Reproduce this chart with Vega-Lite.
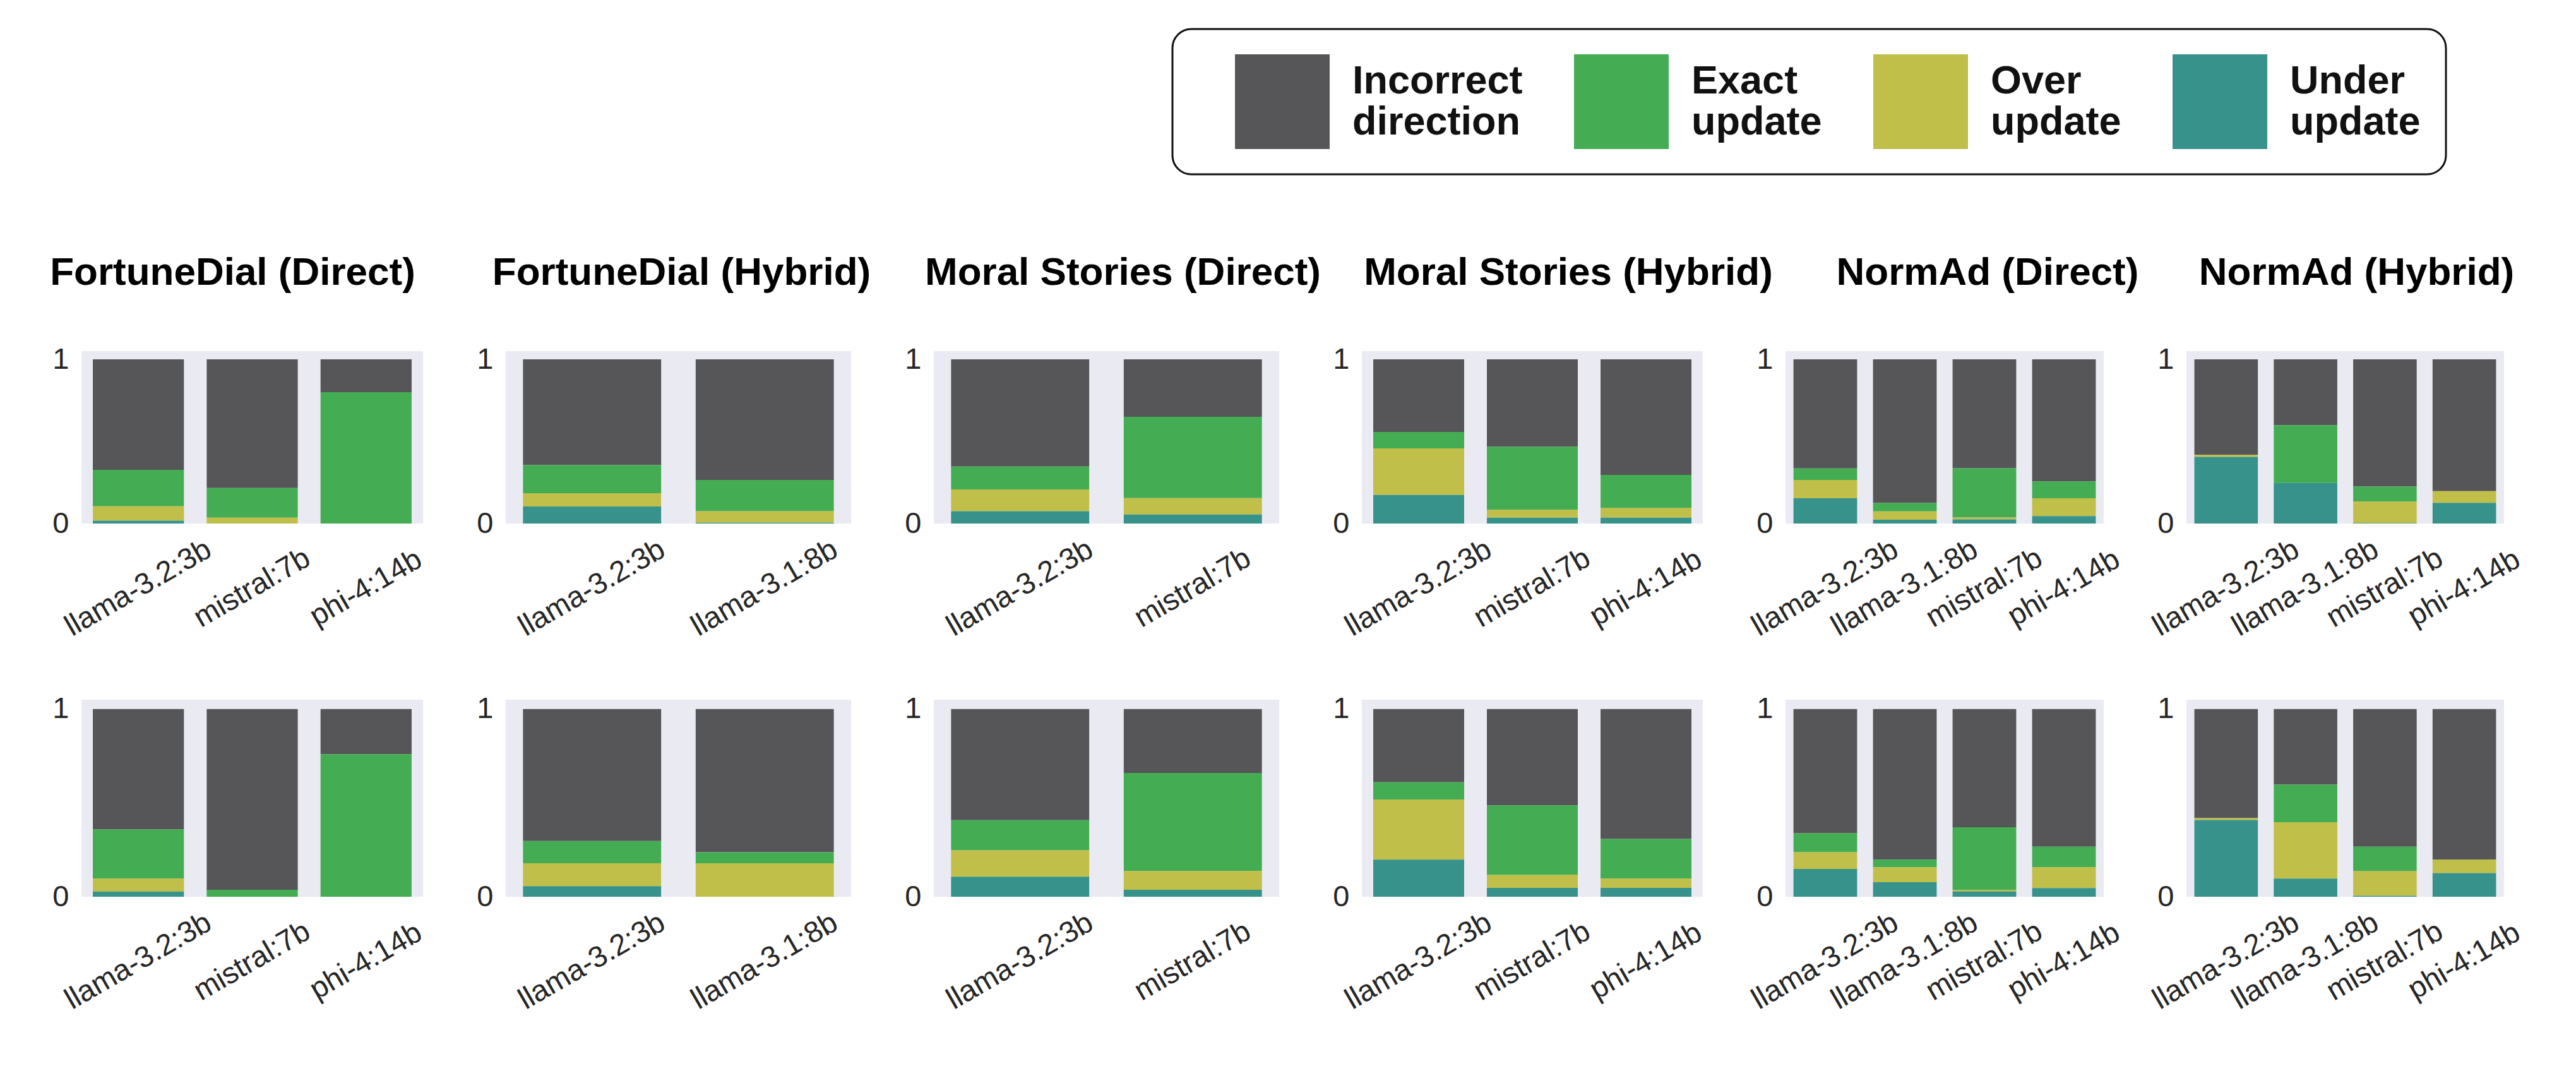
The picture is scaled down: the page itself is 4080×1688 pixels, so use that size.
{
"$schema":"https://vega.github.io/schema/vega-lite/v6.json",
"background":"white",
"padding":{"left":79,"top":44,"right":10,"bottom":10},
"data":{"values":[
{"p":"fdd","r":1,"m":"llama-3.2:3b","und":0.017,"ovr":0.088,"exa":0.222,"inc":0.673},
{"p":"fdd","r":1,"m":"mistral:7b","und":0,"ovr":0.036,"exa":0.18,"inc":0.784},
{"p":"fdd","r":1,"m":"phi-4:14b","und":0,"ovr":0,"exa":0.8,"inc":0.2},
{"p":"fdh","r":1,"m":"llama-3.2:3b","und":0.104,"ovr":0.081,"exa":0.171,"inc":0.644},
{"p":"fdh","r":1,"m":"llama-3.1:8b","und":0.005,"ovr":0.07,"exa":0.19,"inc":0.735},
{"p":"msd","r":1,"m":"llama-3.2:3b","und":0.075,"ovr":0.133,"exa":0.139,"inc":0.653},
{"p":"msd","r":1,"m":"mistral:7b","und":0.055,"ovr":0.1,"exa":0.495,"inc":0.35},
{"p":"msh","r":1,"m":"llama-3.2:3b","und":0.174,"ovr":0.284,"exa":0.1,"inc":0.442},
{"p":"msh","r":1,"m":"mistral:7b","und":0.036,"ovr":0.048,"exa":0.383,"inc":0.533},
{"p":"msh","r":1,"m":"phi-4:14b","und":0.036,"ovr":0.058,"exa":0.202,"inc":0.704},
{"p":"nad","r":1,"m":"llama-3.2:3b","und":0.154,"ovr":0.111,"exa":0.071,"inc":0.664},
{"p":"nad","r":1,"m":"llama-3.1:8b","und":0.023,"ovr":0.051,"exa":0.051,"inc":0.875},
{"p":"nad","r":1,"m":"mistral:7b","und":0.025,"ovr":0.012,"exa":0.3,"inc":0.663},
{"p":"nad","r":1,"m":"phi-4:14b","und":0.045,"ovr":0.109,"exa":0.103,"inc":0.743},
{"p":"nah","r":1,"m":"llama-3.2:3b","und":0.406,"ovr":0.012,"exa":0,"inc":0.582},
{"p":"nah","r":1,"m":"llama-3.1:8b","und":0.247,"ovr":0,"exa":0.352,"inc":0.401},
{"p":"nah","r":1,"m":"mistral:7b","und":0.003,"ovr":0.131,"exa":0.091,"inc":0.775},
{"p":"nah","r":1,"m":"phi-4:14b","und":0.126,"ovr":0.071,"exa":0,"inc":0.803},
{"p":"fdd","r":2,"m":"llama-3.2:3b","und":0.028,"ovr":0.069,"exa":0.261,"inc":0.642},
{"p":"fdd","r":2,"m":"mistral:7b","und":0,"ovr":0,"exa":0.037,"inc":0.963},
{"p":"fdd","r":2,"m":"phi-4:14b","und":0,"ovr":0,"exa":0.76,"inc":0.24},
{"p":"fdh","r":2,"m":"llama-3.2:3b","und":0.056,"ovr":0.122,"exa":0.119,"inc":0.703},
{"p":"fdh","r":2,"m":"llama-3.1:8b","und":0,"ovr":0.178,"exa":0.059,"inc":0.763},
{"p":"msd","r":2,"m":"llama-3.2:3b","und":0.107,"ovr":0.14,"exa":0.161,"inc":0.592},
{"p":"msd","r":2,"m":"mistral:7b","und":0.037,"ovr":0.1,"exa":0.523,"inc":0.34},
{"p":"msh","r":2,"m":"llama-3.2:3b","und":0.198,"ovr":0.32,"exa":0.092,"inc":0.39},
{"p":"msh","r":2,"m":"mistral:7b","und":0.047,"ovr":0.069,"exa":0.371,"inc":0.513},
{"p":"msh","r":2,"m":"phi-4:14b","und":0.047,"ovr":0.05,"exa":0.211,"inc":0.692},
{"p":"nad","r":2,"m":"llama-3.2:3b","und":0.148,"ovr":0.089,"exa":0.101,"inc":0.662},
{"p":"nad","r":2,"m":"llama-3.1:8b","und":0.077,"ovr":0.08,"exa":0.041,"inc":0.802},
{"p":"nad","r":2,"m":"mistral:7b","und":0.029,"ovr":0.008,"exa":0.333,"inc":0.63},
{"p":"nad","r":2,"m":"phi-4:14b","und":0.046,"ovr":0.111,"exa":0.11,"inc":0.733},
{"p":"nah","r":2,"m":"llama-3.2:3b","und":0.409,"ovr":0.01,"exa":0,"inc":0.581},
{"p":"nah","r":2,"m":"llama-3.1:8b","und":0.097,"ovr":0.3,"exa":0.2,"inc":0.403},
{"p":"nah","r":2,"m":"mistral:7b","und":0.005,"ovr":0.131,"exa":0.131,"inc":0.733},
{"p":"nah","r":2,"m":"phi-4:14b","und":0.126,"ovr":0.072,"exa":0,"inc":0.802}
]},
"transform":[
{"fold":["inc","exa","ovr","und"],"as":["c","v"]},
{"calculate":"indexof(['und','ovr','exa','inc'], datum.c)","as":"o"}
],
"bounds":"flush",
"columns":6,
"spacing":{"column":131,"row":279},
"resolve":{"scale":{"x":"independent","color":"shared"}},
"concat":[
{"width":541,"height":273,"title":{"text":"FortuneDial (Direct)","dx":-31},"transform":[{"filter":"datum.p=='fdd' && datum.r==1"}],"mark":"bar",
"encoding":{"x":{"field":"m","type":"nominal","sort":null,"title":null,"scale":{"paddingInner":0.2,"paddingOuter":0.1}},"y":{"field":"v","type":"quantitative","stack":"zero","title":null,"scale":{"domain":[0,1.05],"nice":false},"axis":{"values":[0,1],"format":"d"}},"color":{"field":"c","type":"nominal","scale":{"domain":["inc","exa","ovr","und"],"range":["#565658","#44AC52","#BFBF49","#36928B"]},"legend":{"title":null,"orient":"none","legendX":1728,"legendY":-510,"labelExpr":"datum.value == 'inc' ? ['Incorrect','direction'] : datum.value == 'exa' ? ['Exact','update'] : datum.value == 'ovr' ? ['Over','update'] : ['Under','update']"}},"order":{"field":"o","type":"quantitative"}}},
{"width":547,"height":273,"title":{"text":"FortuneDial (Hybrid)","dx":5},"transform":[{"filter":"datum.p=='fdh' && datum.r==1"}],"mark":"bar",
"encoding":{"x":{"field":"m","type":"nominal","sort":null,"title":null,"scale":{"paddingInner":0.2,"paddingOuter":0.1}},"y":{"field":"v","type":"quantitative","stack":"zero","title":null,"scale":{"domain":[0,1.05],"nice":false},"axis":{"values":[0,1],"format":"d"}},"color":{"field":"c","type":"nominal","scale":{"domain":["inc","exa","ovr","und"],"range":["#565658","#44AC52","#BFBF49","#36928B"]},"legend":{"title":null,"orient":"none","legendX":1728,"legendY":-510,"labelExpr":"datum.value == 'inc' ? ['Incorrect','direction'] : datum.value == 'exa' ? ['Exact','update'] : datum.value == 'ovr' ? ['Over','update'] : ['Under','update']"}},"order":{"field":"o","type":"quantitative"}}},
{"width":547,"height":273,"title":{"text":"Moral Stories (Direct)","dx":26},"transform":[{"filter":"datum.p=='msd' && datum.r==1"}],"mark":"bar",
"encoding":{"x":{"field":"m","type":"nominal","sort":null,"title":null,"scale":{"paddingInner":0.2,"paddingOuter":0.1}},"y":{"field":"v","type":"quantitative","stack":"zero","title":null,"scale":{"domain":[0,1.05],"nice":false},"axis":{"values":[0,1],"format":"d"}},"color":{"field":"c","type":"nominal","scale":{"domain":["inc","exa","ovr","und"],"range":["#565658","#44AC52","#BFBF49","#36928B"]},"legend":{"title":null,"orient":"none","legendX":1728,"legendY":-510,"labelExpr":"datum.value == 'inc' ? ['Incorrect','direction'] : datum.value == 'exa' ? ['Exact','update'] : datum.value == 'ovr' ? ['Over','update'] : ['Under','update']"}},"order":{"field":"o","type":"quantitative"}}},
{"width":540,"height":273,"title":{"text":"Moral Stories (Hybrid)","dx":57},"transform":[{"filter":"datum.p=='msh' && datum.r==1"}],"mark":"bar",
"encoding":{"x":{"field":"m","type":"nominal","sort":null,"title":null,"scale":{"paddingInner":0.2,"paddingOuter":0.1}},"y":{"field":"v","type":"quantitative","stack":"zero","title":null,"scale":{"domain":[0,1.05],"nice":false},"axis":{"values":[0,1],"format":"d"}},"color":{"field":"c","type":"nominal","scale":{"domain":["inc","exa","ovr","und"],"range":["#565658","#44AC52","#BFBF49","#36928B"]},"legend":{"title":null,"orient":"none","legendX":1728,"legendY":-510,"labelExpr":"datum.value == 'inc' ? ['Incorrect','direction'] : datum.value == 'exa' ? ['Exact','update'] : datum.value == 'ovr' ? ['Over','update'] : ['Under','update']"}},"order":{"field":"o","type":"quantitative"}}},
{"width":504,"height":273,"title":{"text":"NormAd (Direct)","dx":68},"transform":[{"filter":"datum.p=='nad' && datum.r==1"}],"mark":"bar",
"encoding":{"x":{"field":"m","type":"nominal","sort":null,"title":null,"scale":{"paddingInner":0.2,"paddingOuter":0.1}},"y":{"field":"v","type":"quantitative","stack":"zero","title":null,"scale":{"domain":[0,1.05],"nice":false},"axis":{"values":[0,1],"format":"d"}},"color":{"field":"c","type":"nominal","scale":{"domain":["inc","exa","ovr","und"],"range":["#565658","#44AC52","#BFBF49","#36928B"]},"legend":{"title":null,"orient":"none","legendX":1728,"legendY":-510,"labelExpr":"datum.value == 'inc' ? ['Incorrect','direction'] : datum.value == 'exa' ? ['Exact','update'] : datum.value == 'ovr' ? ['Over','update'] : ['Under','update']"}},"order":{"field":"o","type":"quantitative"}}},
{"width":503,"height":273,"title":{"text":"NormAd (Hybrid)","dx":18},"transform":[{"filter":"datum.p=='nah' && datum.r==1"}],"mark":"bar",
"encoding":{"x":{"field":"m","type":"nominal","sort":null,"title":null,"scale":{"paddingInner":0.2,"paddingOuter":0.1}},"y":{"field":"v","type":"quantitative","stack":"zero","title":null,"scale":{"domain":[0,1.05],"nice":false},"axis":{"values":[0,1],"format":"d"}},"color":{"field":"c","type":"nominal","scale":{"domain":["inc","exa","ovr","und"],"range":["#565658","#44AC52","#BFBF49","#36928B"]},"legend":{"title":null,"orient":"none","legendX":1728,"legendY":-510,"labelExpr":"datum.value == 'inc' ? ['Incorrect','direction'] : datum.value == 'exa' ? ['Exact','update'] : datum.value == 'ovr' ? ['Over','update'] : ['Under','update']"}},"order":{"field":"o","type":"quantitative"}}},
{"width":541,"height":312,"transform":[{"filter":"datum.p=='fdd' && datum.r==2"}],"mark":"bar",
"encoding":{"x":{"field":"m","type":"nominal","sort":null,"title":null,"scale":{"paddingInner":0.2,"paddingOuter":0.1}},"y":{"field":"v","type":"quantitative","stack":"zero","title":null,"scale":{"domain":[0,1.05],"nice":false},"axis":{"values":[0,1],"format":"d"}},"color":{"field":"c","type":"nominal","scale":{"domain":["inc","exa","ovr","und"],"range":["#565658","#44AC52","#BFBF49","#36928B"]},"legend":{"title":null,"orient":"none","legendX":1728,"legendY":-510,"labelExpr":"datum.value == 'inc' ? ['Incorrect','direction'] : datum.value == 'exa' ? ['Exact','update'] : datum.value == 'ovr' ? ['Over','update'] : ['Under','update']"}},"order":{"field":"o","type":"quantitative"}}},
{"width":547,"height":312,"transform":[{"filter":"datum.p=='fdh' && datum.r==2"}],"mark":"bar",
"encoding":{"x":{"field":"m","type":"nominal","sort":null,"title":null,"scale":{"paddingInner":0.2,"paddingOuter":0.1}},"y":{"field":"v","type":"quantitative","stack":"zero","title":null,"scale":{"domain":[0,1.05],"nice":false},"axis":{"values":[0,1],"format":"d"}},"color":{"field":"c","type":"nominal","scale":{"domain":["inc","exa","ovr","und"],"range":["#565658","#44AC52","#BFBF49","#36928B"]},"legend":{"title":null,"orient":"none","legendX":1728,"legendY":-510,"labelExpr":"datum.value == 'inc' ? ['Incorrect','direction'] : datum.value == 'exa' ? ['Exact','update'] : datum.value == 'ovr' ? ['Over','update'] : ['Under','update']"}},"order":{"field":"o","type":"quantitative"}}},
{"width":547,"height":312,"transform":[{"filter":"datum.p=='msd' && datum.r==2"}],"mark":"bar",
"encoding":{"x":{"field":"m","type":"nominal","sort":null,"title":null,"scale":{"paddingInner":0.2,"paddingOuter":0.1}},"y":{"field":"v","type":"quantitative","stack":"zero","title":null,"scale":{"domain":[0,1.05],"nice":false},"axis":{"values":[0,1],"format":"d"}},"color":{"field":"c","type":"nominal","scale":{"domain":["inc","exa","ovr","und"],"range":["#565658","#44AC52","#BFBF49","#36928B"]},"legend":{"title":null,"orient":"none","legendX":1728,"legendY":-510,"labelExpr":"datum.value == 'inc' ? ['Incorrect','direction'] : datum.value == 'exa' ? ['Exact','update'] : datum.value == 'ovr' ? ['Over','update'] : ['Under','update']"}},"order":{"field":"o","type":"quantitative"}}},
{"width":540,"height":312,"transform":[{"filter":"datum.p=='msh' && datum.r==2"}],"mark":"bar",
"encoding":{"x":{"field":"m","type":"nominal","sort":null,"title":null,"scale":{"paddingInner":0.2,"paddingOuter":0.1}},"y":{"field":"v","type":"quantitative","stack":"zero","title":null,"scale":{"domain":[0,1.05],"nice":false},"axis":{"values":[0,1],"format":"d"}},"color":{"field":"c","type":"nominal","scale":{"domain":["inc","exa","ovr","und"],"range":["#565658","#44AC52","#BFBF49","#36928B"]},"legend":{"title":null,"orient":"none","legendX":1728,"legendY":-510,"labelExpr":"datum.value == 'inc' ? ['Incorrect','direction'] : datum.value == 'exa' ? ['Exact','update'] : datum.value == 'ovr' ? ['Over','update'] : ['Under','update']"}},"order":{"field":"o","type":"quantitative"}}},
{"width":504,"height":312,"transform":[{"filter":"datum.p=='nad' && datum.r==2"}],"mark":"bar",
"encoding":{"x":{"field":"m","type":"nominal","sort":null,"title":null,"scale":{"paddingInner":0.2,"paddingOuter":0.1}},"y":{"field":"v","type":"quantitative","stack":"zero","title":null,"scale":{"domain":[0,1.05],"nice":false},"axis":{"values":[0,1],"format":"d"}},"color":{"field":"c","type":"nominal","scale":{"domain":["inc","exa","ovr","und"],"range":["#565658","#44AC52","#BFBF49","#36928B"]},"legend":{"title":null,"orient":"none","legendX":1728,"legendY":-510,"labelExpr":"datum.value == 'inc' ? ['Incorrect','direction'] : datum.value == 'exa' ? ['Exact','update'] : datum.value == 'ovr' ? ['Over','update'] : ['Under','update']"}},"order":{"field":"o","type":"quantitative"}}},
{"width":503,"height":312,"transform":[{"filter":"datum.p=='nah' && datum.r==2"}],"mark":"bar",
"encoding":{"x":{"field":"m","type":"nominal","sort":null,"title":null,"scale":{"paddingInner":0.2,"paddingOuter":0.1}},"y":{"field":"v","type":"quantitative","stack":"zero","title":null,"scale":{"domain":[0,1.05],"nice":false},"axis":{"values":[0,1],"format":"d"}},"color":{"field":"c","type":"nominal","scale":{"domain":["inc","exa","ovr","und"],"range":["#565658","#44AC52","#BFBF49","#36928B"]},"legend":{"title":null,"orient":"none","legendX":1728,"legendY":-510,"labelExpr":"datum.value == 'inc' ? ['Incorrect','direction'] : datum.value == 'exa' ? ['Exact','update'] : datum.value == 'ovr' ? ['Over','update'] : ['Under','update']"}},"order":{"field":"o","type":"quantitative"}}}
],
"config":{
"font":"Liberation Sans",
"view":{"stroke":null,"fill":"#EAEAF2"},
"title":{"font":"Liberation Sans","fontSize":62,"fontWeight":"bold","color":"#000000","baseline":"alphabetic","offset":81,"anchor":"middle"},
"axis":{"labelFont":"Liberation Sans","labelFontSize":47,"labelColor":"#262626","grid":false,"domain":false,"ticks":false,"tickSize":0},
"axisX":{"labelAngle":-30,"labelAlign":"center","labelBaseline":"middle","labelPadding":102,"labelLimit":600},
"axisY":{"labelPadding":20,"labelBaseline":"middle"},
"legend":{"direction":"horizontal","columns":4,"symbolType":"square","symbolSize":22500,"symbolStrokeWidth":0,"symbolOpacity":1,"symbolOffset":59,"labelFont":"Liberation Sans","labelFontSize":63,"labelFontWeight":"bold","labelColor":"#111111","labelLimit":800,"labelOffset":36,"labelBaseline":"bottom","columnPadding":22,"padding":40,"strokeColor":"#111111","strokeWidth":3,"cornerRadius":30}
}
}
